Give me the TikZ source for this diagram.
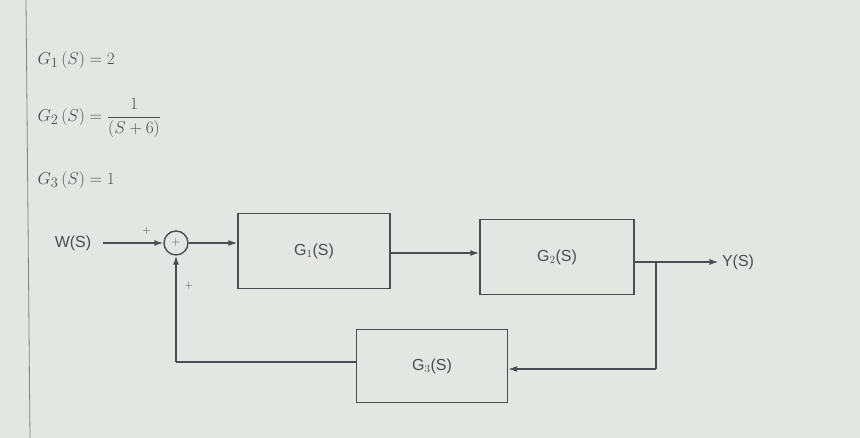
\documentclass[tikz,border=0pt]{standalone}
\usepackage{fontspec}
\setsansfont{Liberation Sans}
\usetikzlibrary{arrows.meta}
\definecolor{bg}{HTML}{E4E6E3}
\definecolor{ink}{HTML}{4A4E52}
\begin{document}
\begin{tikzpicture}[x=1pt,y=-1pt,
  blk/.style={draw=ink,line width=1.4pt,minimum width=152pt,minimum height=75pt,font=\sffamily\fontsize{16}{18}\selectfont,text=ink},
  lbl/.style={font=\sffamily\fontsize{16}{18}\selectfont,text=ink},
  sig/.style={draw=ink,line width=1.4pt,-{Latex[length=9pt,width=6pt]}},
  ln/.style={draw=ink,line width=1.4pt},
  eq/.style={text=ink,font=\fontsize{19}{22}\selectfont,anchor=west}]
\fill[bg] (0,0) rectangle (860,438);
\useasboundingbox (0,0) rectangle (860,438);
\draw[ink!70,line width=0.8pt] (26,0) -- (30,438);
\node[eq] (e1) at (34,60) {$G_1\,(S)=2$};
\node[eq] (e2) at (34,118) {$G_2\,(S)=\displaystyle\frac{1}{(S+6)}$};
\node[eq] (e3) at (34,180) {$G_3\,(S)=1$};
\node[lbl] (w) at (73,243) {W(S)};
\node[draw=ink,line width=1.4pt,circle,minimum size=24pt,inner sep=0pt,font=\fontsize{13}{13}\selectfont,text=ink] (s) at (176,243) {$+$};
\node[font=\fontsize{11}{11}\selectfont,text=ink] (p1) at (147,231) {$+$};
\node[font=\fontsize{11}{11}\selectfont,text=ink] (p2) at (189,286) {$+$};
\node[blk] (g1) at (314,251) {G$_1$(S)};
\node[blk,minimum width=154pt] (g2) at (557,257) {G$_2$(S)};
\node[blk,minimum width=151pt,minimum height=73pt] (g3) at (432,366) {G$_3$(S)};
\node[lbl] (y) at (738,262) {Y(S)};
\coordinate (c1) at (656,262);
\coordinate (c2) at (656,369);
\coordinate (c3) at (176,362);
\draw[sig] (w.east)++(8,0) -- (s.west);
\draw[sig] (s.east) -- (g1.west |- s.east);
\draw[sig] (g1.east |- 0,253) -- (g2.west |- 0,253);
\draw[sig] (g2.east |- y) -- (y.west);
\draw[ln] (c1) -- (c2);
\draw[sig] (c2) -- (g3.east |- c2);
\draw[ln] (g3.west |- c3) -- (c3);
\draw[sig] (c3) -- (s.south);
\end{tikzpicture}
\end{document}
